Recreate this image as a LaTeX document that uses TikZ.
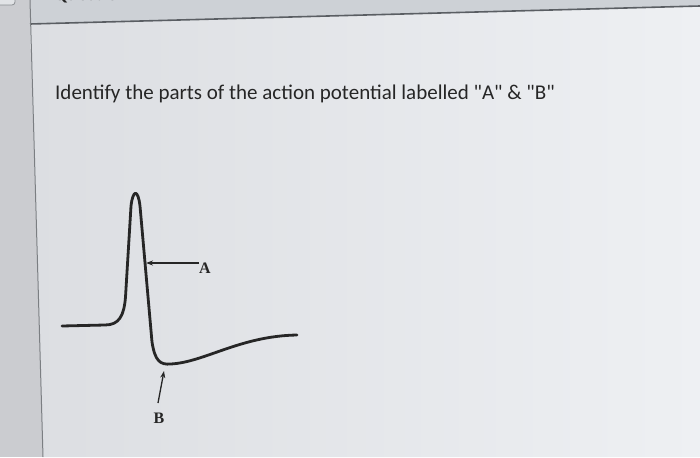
\documentclass[tikz,border=0pt]{standalone}
\usepackage{fontspec}
\setmainfont{Carlito}
\newfontfamily\qfont{Carlito}[Ligatures=TeXOff]
\newfontfamily\labelfont{Liberation Serif}
\usetikzlibrary{arrows.meta}
\definecolor{sidebar}{HTML}{CBCCD0}
\definecolor{topstrip}{HTML}{CDD1D6}
\definecolor{pageL}{HTML}{DCDEE2}
\definecolor{pageR}{HTML}{EEF0F3}
\definecolor{ink}{HTML}{262626}
\definecolor{rule}{HTML}{5A5E63}
\tikzset{
  curve/.style={draw=ink, line width=2.8pt, line join=round, line cap=round},
  pointer/.style={draw=ink, line width=1.3pt, -{Stealth[length=7pt,width=5pt]}},
  lbl/.style={font=\labelfont\bfseries\fontsize{16}{18}\selectfont, text=ink, inner sep=0pt},
  qtext/.style={font=\qfont\fontsize{21}{25}\selectfont, text=ink, inner sep=0pt, anchor=base west},
}
\begin{document}
\begin{tikzpicture}[x=1pt, y=-1pt]
\useasboundingbox (0,0) rectangle (700,457);
\begin{scope}
\clip (0,0) rectangle (700,457);
% backgrounds
\fill[sidebar] (0,0) rectangle (700,457);
\fill[topstrip] (30,0) -- (700,0) -- (700,6) -- (30,24) -- cycle;
\shade[left color=pageL, right color=pageR] (30,24) -- (700,6) -- (700,457) -- (43,457) -- cycle;
% frame lines
\draw[rule, line width=1.6pt] (30,24) -- (700,6);
\draw[rule!80, line width=1pt] (30,0) -- (43,457);
% small button at top left
\draw[rule!70, fill=topstrip!60, rounded corners=3pt, line width=0.8pt] (-10,-10) rectangle (15,5);
% clipped heading
\node[font=\bfseries\fontsize{20}{24}\selectfont, text=ink, anchor=base west, inner sep=0pt] (head) at (53,1) {Question 2};
\end{scope}
% question text
\node[qtext] (q) at (55,100) {Identify the parts of the action potential labelled "A" \& "B"};
% action potential
\draw[curve] (62,326) -- (105,325)
  .. controls (119,325) and (124,316) .. (125.5,297)
  -- (131,206)
  .. controls (133,189) and (138,189) .. (140,206)
  -- (152,342)
  .. controls (155,361) and (160,365) .. (171,364)
  .. controls (205,362) and (240,336) .. (297,335);
% labels and pointers
\node[lbl] (A) at (205,268) {A};
\node[lbl] (B) at (159,418) {B};
\coordinate (Astart) at (199,263);
\coordinate (Atip) at (146,263);
\coordinate (Bstart) at (158,403);
\coordinate (Btip) at (164,371);
\draw[pointer] (Astart) -- (Atip);
\draw[pointer] (Bstart) -- (Btip);
\end{tikzpicture}
\end{document}
